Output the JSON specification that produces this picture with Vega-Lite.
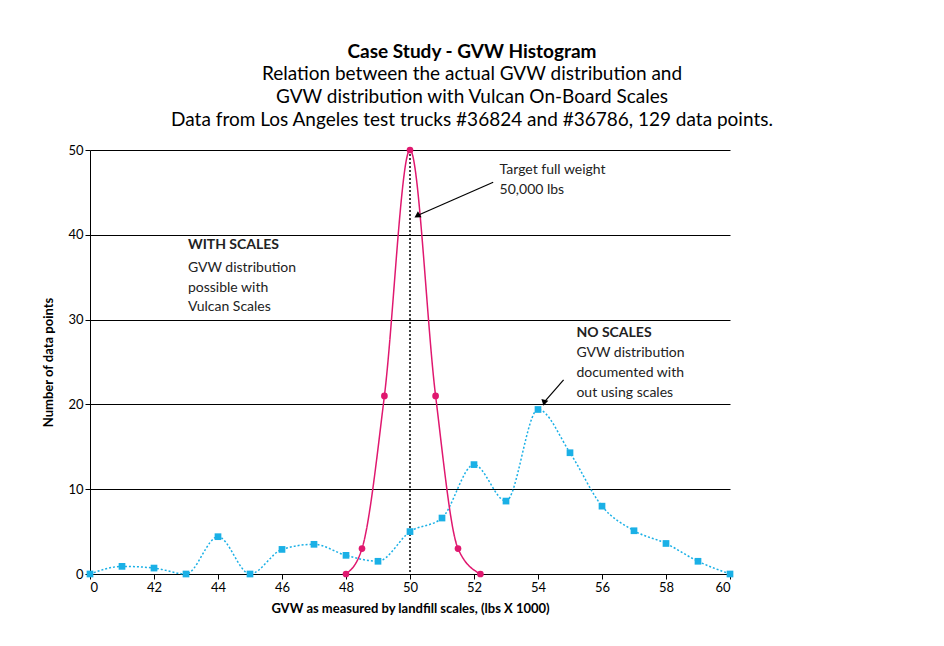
{
  "$schema": "https://vega.github.io/schema/vega-lite/v6.json",
  "width": 640,
  "height": 424,
  "autosize": "none",
  "padding": {"left": 90, "top": 150, "right": 214, "bottom": 72},
  "background": "white",
  "config": {
    "font": "Lato",
    "view": {"stroke": null},
    "axis": {"labelFont": "Lato", "titleFont": "Lato", "labelFontSize": 13, "titleFontSize": 13, "labelColor": "black", "titleColor": "black", "domainColor": "black", "tickColor": "black"}
  },
  "title": {
    "text": "Case Study - GVW Histogram",
    "subtitle": ["Relation between the actual GVW distribution and", "GVW distribution with Vulcan On-Board Scales", "Data from Los Angeles test trucks #36824 and #36786, 129 data points."],
    "fontSize": 19,
    "subtitleFontSize": 19,
    "subtitleColor": "black",
    "subtitleLineHeight": 23,
    "anchor": "middle",
    "dx": 62,
    "offset": 14
  },
  "datasets": {
    "pts": [
      {"x": 40, "y": 0, "series": "A"}, {"x": 41, "y": 0.9, "series": "A"}, {"x": 42, "y": 0.7, "series": "A"},
      {"x": 43, "y": 0, "series": "A"}, {"x": 44, "y": 4.4, "series": "A"}, {"x": 45, "y": 0, "series": "A"},
      {"x": 46, "y": 2.9, "series": "A"}, {"x": 47, "y": 3.5, "series": "A"}, {"x": 48, "y": 2.2, "series": "A"},
      {"x": 49, "y": 1.5, "series": "A"}, {"x": 50, "y": 5, "series": "A"}, {"x": 51, "y": 6.6, "series": "A"},
      {"x": 52, "y": 12.9, "series": "A"}, {"x": 53, "y": 8.6, "series": "A"}, {"x": 54, "y": 19.4, "series": "A"},
      {"x": 55, "y": 14.3, "series": "A"}, {"x": 56, "y": 8, "series": "A"}, {"x": 57, "y": 5.1, "series": "A"},
      {"x": 58, "y": 3.6, "series": "A"}, {"x": 59, "y": 1.5, "series": "A"}, {"x": 60, "y": 0, "series": "A"},
      {"x": 48, "y": 0, "series": "B"}, {"x": 48.5, "y": 3, "series": "B"}, {"x": 49.2, "y": 21, "series": "B"},
      {"x": 50, "y": 50, "series": "B"}, {"x": 50.8, "y": 21, "series": "B"}, {"x": 51.5, "y": 3, "series": "B"},
      {"x": 52.2, "y": 0, "series": "B"}
    ],
    "notes": [
      {"x": 52.8, "y": 47.6, "t": "Target full weight", "b": "normal"},
      {"x": 52.8, "y": 45.3, "t": "50,000 lbs", "b": "normal"},
      {"x": 43.06, "y": 38.8, "t": "WITH SCALES", "b": "bold"},
      {"x": 43.06, "y": 36.1, "t": "GVW distribution", "b": "normal"},
      {"x": 43.06, "y": 33.7, "t": "possible with", "b": "normal"},
      {"x": 43.06, "y": 31.5, "t": "Vulcan Scales", "b": "normal"},
      {"x": 55.2, "y": 28.4, "t": "NO SCALES", "b": "bold"},
      {"x": 55.2, "y": 26.1, "t": "GVW distribution", "b": "normal"},
      {"x": 55.2, "y": 23.7, "t": "documented with", "b": "normal"},
      {"x": 55.2, "y": 21.3, "t": "out using scales", "b": "normal"}
    ],
    "arrows": [
      {"x": 52.6, "y": 46.2, "x2": 50.25, "y2": 42.3, "ang": 239},
      {"x": 54.8, "y": 22.9, "x2": 54.2, "y2": 20.3, "ang": 193}
    ]
  },
  "layer": [
    {
      "data": {"values": [{"x": 50}]},
      "mark": {"type": "rule", "color": "black", "strokeDash": [2, 2], "strokeWidth": 1.5},
      "encoding": {"x": {"field": "x", "type": "quantitative", "scale": {"domain": [40, 60], "nice": false, "zero": false}}}
    },
    {
      "data": {"name": "pts"},
      "mark": {"type": "line", "interpolate": "monotone", "strokeWidth": 1.5},
      "encoding": {
        "x": {"field": "x", "type": "quantitative", "scale": {"domain": [40, 60], "nice": false, "zero": false},
          "axis": {"values": [40, 42, 44, 46, 48, 50, 52, 54, 56, 58, 60], "labelExpr": "datum.value == 40 ? '0' : datum.label", "grid": false,
            "title": "GVW as measured by landfill scales, (lbs X 1000)", "titleFontWeight": "bold", "titlePadding": 8}},
        "y": {"field": "y", "type": "quantitative", "scale": {"domain": [0, 50], "nice": false},
          "axis": {"values": [0, 10, 20, 30, 40, 50], "grid": true, "gridColor": "black", "gridOpacity": 1,
            "title": "Number of data points", "titleFontWeight": "bold", "titlePadding": 12}},
        "color": {"field": "series", "type": "nominal", "scale": {"domain": ["A", "B"], "range": ["#1ab0e6", "#e0186f"]}},
        "strokeDash": {"field": "series", "type": "nominal", "scale": {"domain": ["A", "B"], "range": [[2, 2], [1, 0]]}, "legend": null}
      }
    },
    {
      "data": {"name": "pts"},
      "mark": {"type": "point", "filled": true, "size": 45, "opacity": 1},
      "encoding": {
        "x": {"field": "x", "type": "quantitative"},
        "y": {"field": "y", "type": "quantitative"},
        "color": {"field": "series", "type": "nominal", "scale": {"domain": ["A", "B"], "range": ["#1ab0e6", "#e0186f"]}},
        "shape": {"field": "series", "type": "nominal", "scale": {"domain": ["A", "B"], "range": ["square", "circle"]}}
      }
    },
    {
      "data": {"name": "arrows"},
      "mark": {"type": "rule", "color": "black", "strokeWidth": 1.2},
      "encoding": {
        "x": {"field": "x", "type": "quantitative"}, "y": {"field": "y", "type": "quantitative"},
        "x2": {"field": "x2"}, "y2": {"field": "y2"}
      }
    },
    {
      "data": {"name": "arrows"},
      "mark": {"type": "point", "shape": "triangle", "filled": true, "color": "black", "size": 50, "opacity": 1},
      "encoding": {
        "x": {"field": "x2", "type": "quantitative"}, "y": {"field": "y2", "type": "quantitative"},
        "angle": {"field": "ang", "type": "quantitative", "scale": null}
      }
    },
    {
      "data": {"name": "notes"},
      "transform": [{"filter": "datum.b == 'normal'"}],
      "mark": {"type": "text", "align": "left", "baseline": "middle", "fontSize": 14, "color": "#222"},
      "encoding": {
        "x": {"field": "x", "type": "quantitative"}, "y": {"field": "y", "type": "quantitative"},
        "text": {"field": "t"}
      }
    },
    {
      "data": {"name": "notes"},
      "transform": [{"filter": "datum.b == 'bold'"}],
      "mark": {"type": "text", "align": "left", "baseline": "middle", "fontSize": 14, "fontWeight": "bold", "color": "#222"},
      "encoding": {
        "x": {"field": "x", "type": "quantitative"}, "y": {"field": "y", "type": "quantitative"},
        "text": {"field": "t"}
      }
    }
  ],
  "resolve": {"legend": {"color": "shared", "shape": "shared"}},
  "config": {
    "font": "Lato",
    "view": {"stroke": null},
    "axis": {"labelFont": "Lato", "titleFont": "Lato", "labelFontSize": 13, "titleFontSize": 13, "labelColor": "black", "titleColor": "black", "domainColor": "black", "tickColor": "black"},
    "legend": {"title": null, "orient": "none", "legendX": 660, "legendY": 200, "labelFontSize": 14, "labelColor": "#222", "rowPadding": 28, "symbolSize": 60,
      "labelExpr": "datum.label == 'A' ? ['GVW distribution', 'with out scales'] : ['GVW distribution', 'with Vulcan', 'On-Board Scales']"}
  }
}
